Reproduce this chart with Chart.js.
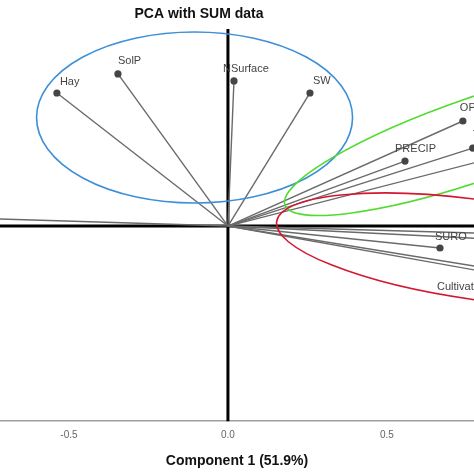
<!DOCTYPE html>
<html>
<head>
<meta charset="utf-8">
<script src="https://cdn.jsdelivr.net/npm/chart.js@4/dist/chart.umd.min.js"></script>
<style>
  html, body { margin: 0; padding: 0; background: #fff; }
  #wrap { width: 474px; height: 474px; }
</style>
</head>
<body>
<div id="wrap"><canvas id="c" width="474" height="474"></canvas></div>
<script>
// ---- data (loadings) ----
const varNames = ['Hay', 'SolP', 'NSurface', 'SW', 'OP', 'TP', 'PRECIP', '', '', '', 'SURO', '', 'Cultivated', ''];
const comp1    = [-0.538, -0.346, 0.019, 0.258, 0.739, 0.770, 0.557, 0.85, 0.85, 0.85, 0.667, 0.85, 0.90, -0.85];
const comp2    = [ 0.418,  0.478, 0.456, 0.418, 0.330, 0.245, 0.204, 0.218, -0.024, -0.042, -0.069, -0.138, -0.160, 0.026];
const xTicks   = [-0.5, 0, 0.5];
const chartTitle = 'PCA with SUM data';
const xTitle = 'Component 1 (51.9%)';

// groups drawn as ellipses (data units): centre, semi-axes, rotation in degrees
const groupCx    = [-0.105, 0.792, 0.792];
const groupCy    = [ 0.341, 0.277, -0.0755];
const groupA     = [ 0.497, 0.648, 0.645];
const groupB     = [ 0.269, 0.130, 0.157];
const groupAngle = [ 0, 19, -8];

// ---- style ----
const groupColors = ['#3d8fd8', '#4fdc2f', '#d4172f'];
const labelDx = [3, 0, -11, 3, -3, 0, -10, 2, 2, 2, -5, 2, -77, 2];
const labelDy = [-11, -13, -12, -12, -13, -13, -12, -12, -12, -12, -11, -12, 10, -12];

const datasets = varNames.map((n, i) => ({
  label: n,
  data: [{x: 0, y: 0}, {x: comp1[i], y: comp2[i]}],
  showLine: true,
  borderColor: '#6a6a6a',
  borderWidth: 1.4,
  pointRadius: [0, 3.6],
  pointBackgroundColor: '#454545',
  pointBorderColor: '#454545',
  pointBorderWidth: 0,
  fill: false
}));

const axesPlugin = {
  id: 'zeroAxes',
  beforeDatasetsDraw(chart) {
    const {ctx, chartArea, scales: {x, y}} = chart;
    ctx.save();
    ctx.strokeStyle = '#000';
    ctx.lineWidth = 3;
    const x0 = x.getPixelForValue(0), y0 = y.getPixelForValue(0);
    ctx.beginPath();
    ctx.moveTo(chartArea.left, y0); ctx.lineTo(chartArea.right, y0);
    ctx.moveTo(x0, chartArea.top); ctx.lineTo(x0, chartArea.bottom);
    ctx.stroke();
    ctx.restore();
  },
  afterDatasetsDraw(chart) {
    const {ctx, scales: {x, y}} = chart;
    const ppu = x.getPixelForValue(1) - x.getPixelForValue(0);
    ctx.save();
    // ellipses
    groupCx.forEach((cx, i) => {
      ctx.beginPath();
      ctx.strokeStyle = groupColors[i];
      ctx.lineWidth = 1.6;
      ctx.ellipse(x.getPixelForValue(cx), y.getPixelForValue(groupCy[i]),
        groupA[i] * ppu, groupB[i] * ppu, -groupAngle[i] * Math.PI / 180, 0, Math.PI * 2);
      ctx.stroke();
    });
    // labels
    ctx.fillStyle = '#444';
    ctx.font = '11px "Liberation Sans", Arial, sans-serif';
    ctx.textAlign = 'left';
    ctx.textBaseline = 'middle';
    varNames.forEach((n, i) => {
      if (!n) return;
      ctx.fillText(n, x.getPixelForValue(comp1[i]) + labelDx[i], y.getPixelForValue(comp2[i]) + labelDy[i]);
    });
    // title
    ctx.fillStyle = '#111';
    ctx.font = 'bold 14px "Liberation Sans", Arial, sans-serif';
    ctx.textAlign = 'center';
    ctx.fillText(chartTitle, 199, 14);
    ctx.restore();
  }
};

new Chart(document.getElementById('c'), {
  type: 'scatter',
  data: { datasets },
  options: {
    responsive: false,
    animation: false,
    devicePixelRatio: 1,
    layout: { autoPadding: false, padding: { top: 29, left: 0, right: 0, bottom: 0 } },
    plugins: { legend: { display: false }, tooltip: { enabled: false }, title: { display: false } },
    scales: {
      x: {
        type: 'linear',
        min: -0.717, max: 0.774,
        afterBuildTicks: (axis) => { axis.ticks = xTicks.map(v => ({value: v})); },
        grid: { display: false },
        border: { display: true, color: '#a0a0a0', width: 1.5 },
        ticks: {
          color: '#666', padding: 0,
          font: { size: 10, family: '"Liberation Sans", Arial, sans-serif' },
          callback: (v) => Number(v).toFixed(1),
          maxRotation: 0
        },
        title: {
          display: true, text: xTitle, color: '#111',
          font: { size: 14, weight: 'bold', family: '"Liberation Sans", Arial, sans-serif' },
          padding: { top: 12, bottom: 4 }
        }
      },
      y: {
        type: 'linear',
        display: false,
        min: -0.613, max: 0.619
      }
    }
  },
  plugins: [axesPlugin]
});
</script>
</body>
</html>
